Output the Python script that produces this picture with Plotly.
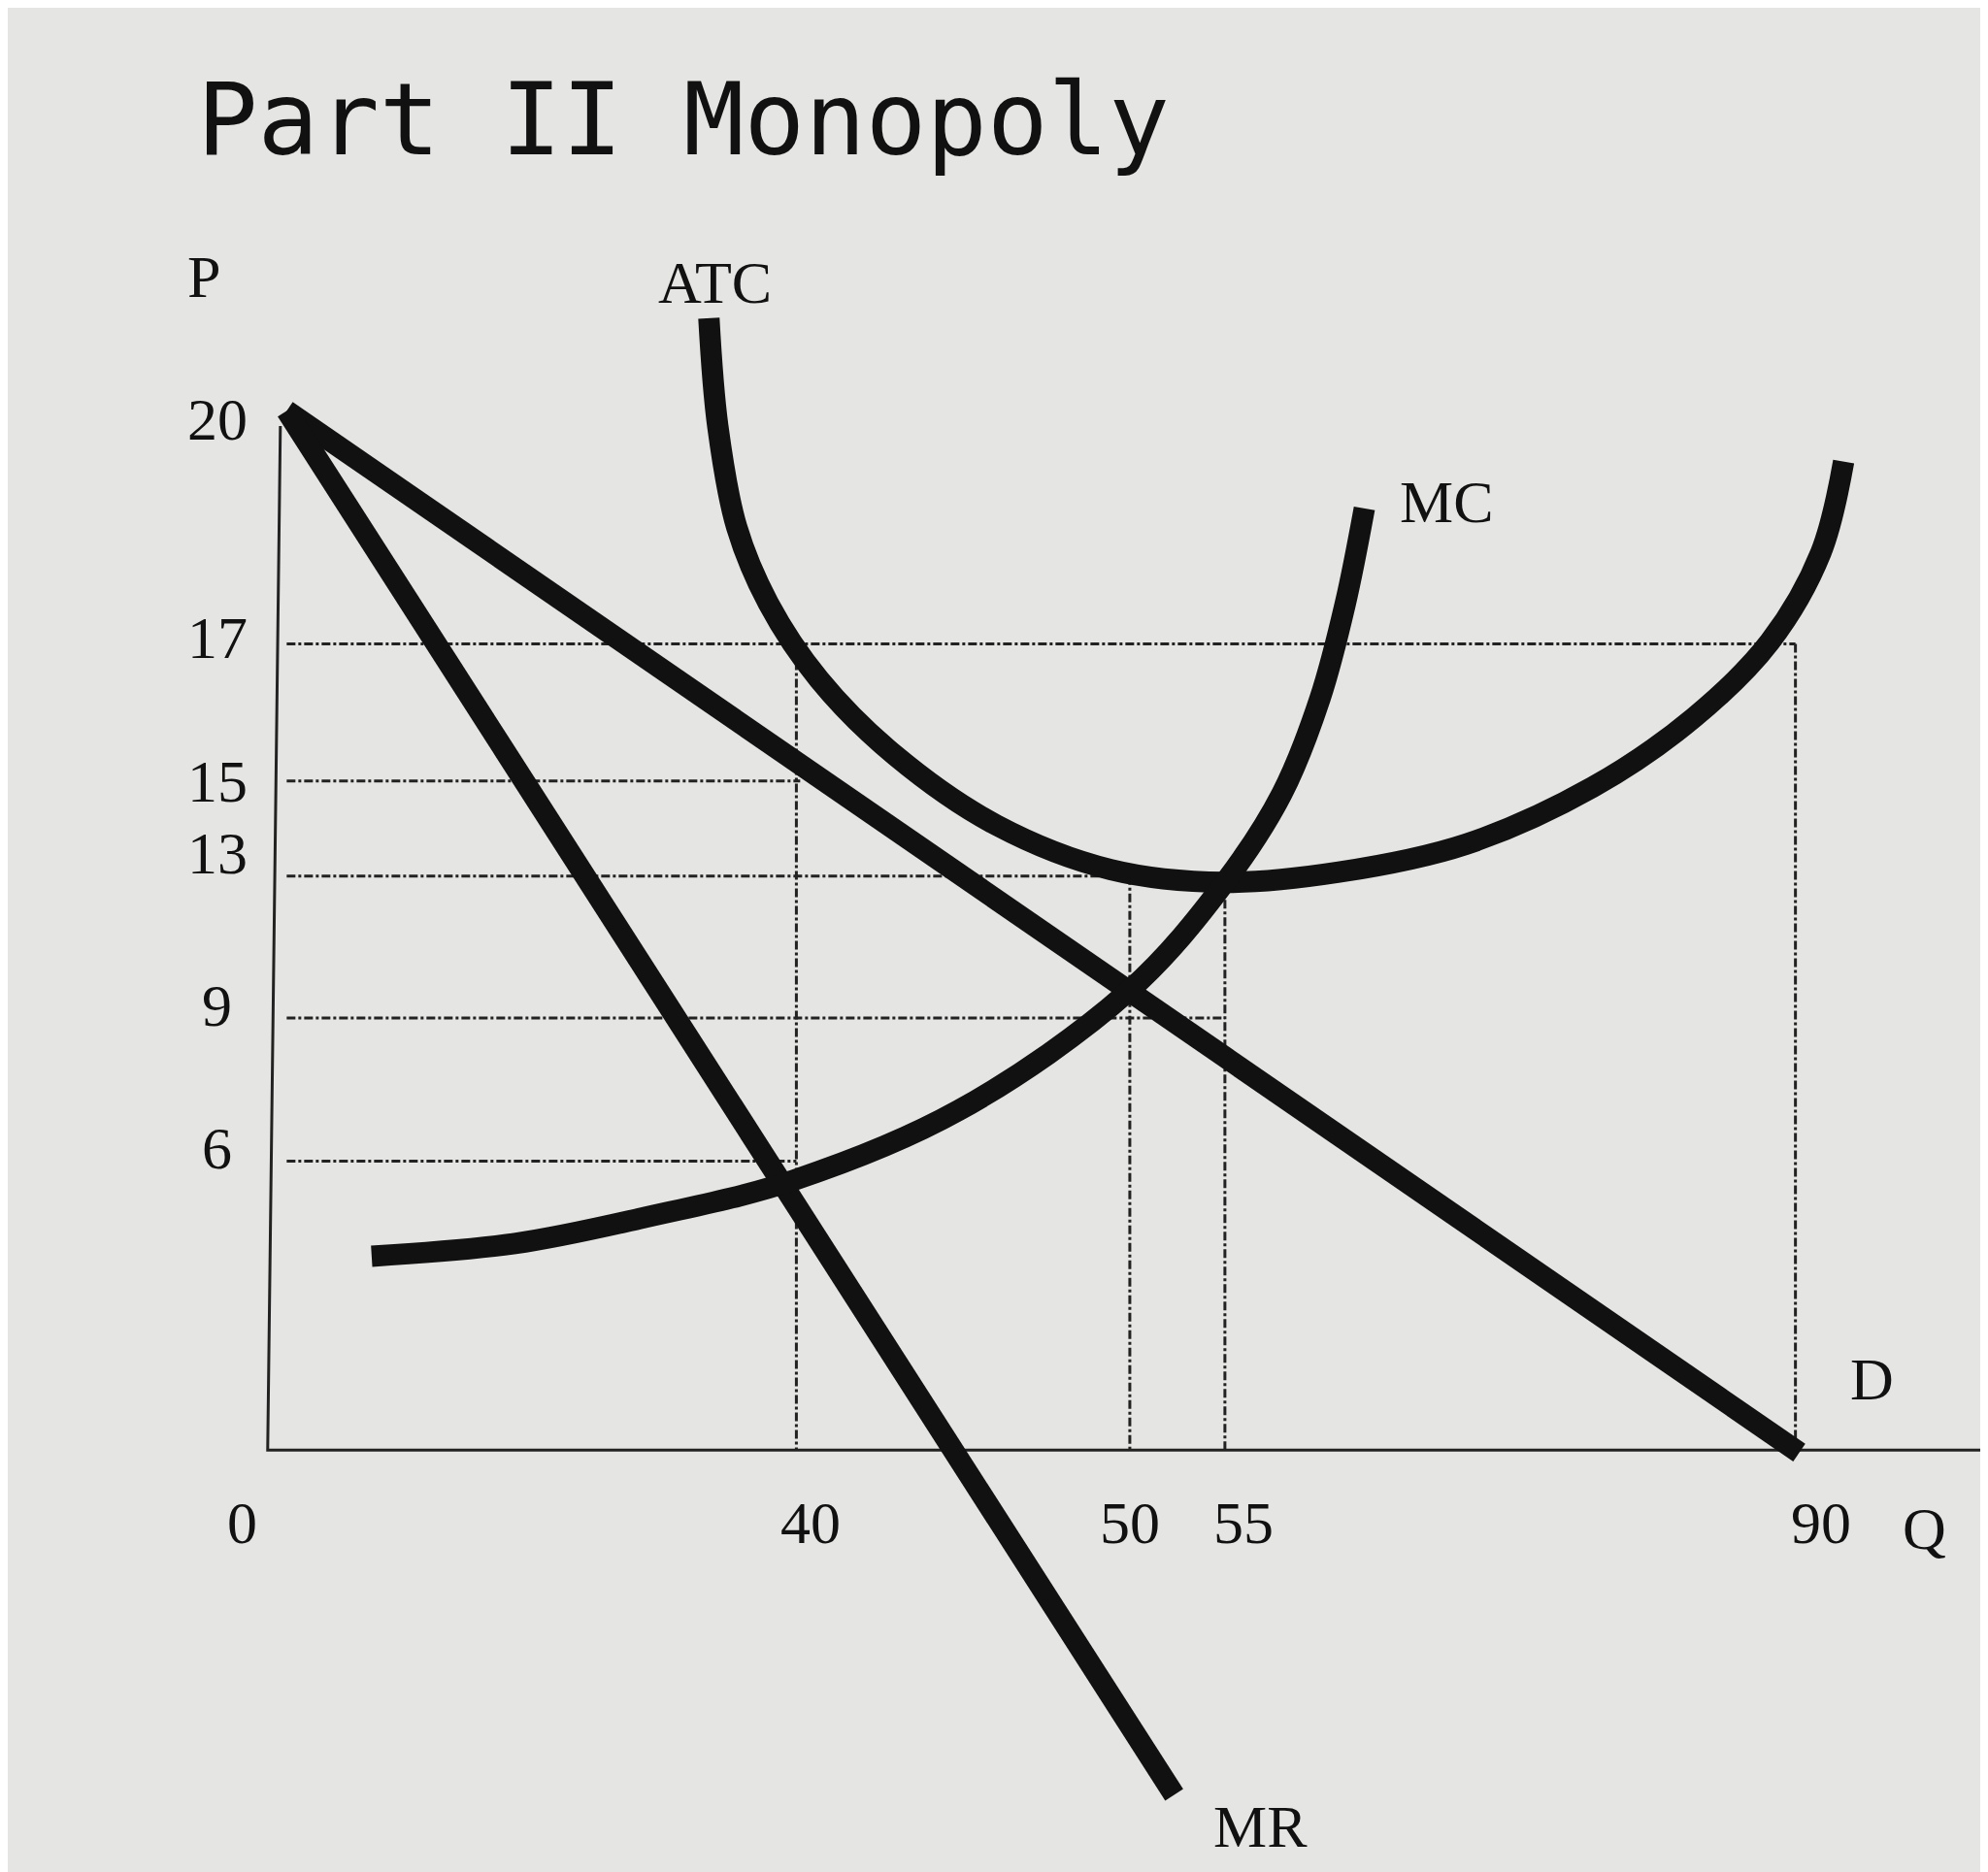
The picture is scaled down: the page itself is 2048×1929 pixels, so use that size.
import plotly.graph_objects as go

# Chart drawn in "sketch units" (diagram is not to scale); tick labels map values to positions
q_ticks = ["0", "40", "50", "55", "90"]
q_pos = [185, 633, 885, 975, 1430]
p_ticks = ["20", "17", "15", "13", "9", "6"]
p_pos = [325, 497, 610, 667, 787, 900]

d_x = [220, 1413]; d_y = [318, 1140]
mr_x = [220, 920]; mr_y = [318, 1410]
atc_x = [553, 560, 575, 600, 640, 700, 780, 870, 960, 1050, 1150, 1250, 1330, 1390, 1430, 1448]
atc_y = [245, 330, 410, 470, 530, 590, 645, 680, 690, 682, 660, 615, 560, 500, 430, 358]
mc_x = [287, 400, 500, 620, 750, 885, 960, 1005, 1035, 1055, 1070]
mc_y = [985, 975, 955, 925, 870, 775, 690, 620, 545, 470, 395]

# guide lines: (x0,y0,x1,y1)
guides = [(220, 502, 1410, 502), (220, 610, 625, 610), (220, 685, 885, 685),
          (220, 797, 960, 797), (220, 910, 622, 910),
          (622, 502, 622, 1138), (885, 685, 885, 1138), (960, 690, 960, 1138),
          (1410, 502, 1410, 1138)]

fig = go.Figure()
for g in guides:
    fig.add_trace(go.Scatter(x=[g[0], g[2]], y=[g[1], g[3]], mode="lines",
                             line=dict(color="#222", width=3, dash="dashdot"), hoverinfo="skip"))
fig.add_trace(go.Scatter(x=[215, 205, 1568], y=[330, 1138, 1138], mode="lines",
                         line=dict(color="#222", width=3)))
for xs, ys in [(d_x, d_y), (mr_x, mr_y)]:
    fig.add_trace(go.Scatter(x=xs, y=ys, mode="lines", line=dict(color="#111", width=22)))
for xs, ys in [(atc_x, atc_y), (mc_x, mc_y)]:
    fig.add_trace(go.Scatter(x=xs, y=ys, mode="lines", line=dict(color="#111", width=22, shape="spline")))

serif = "Liberation Serif"
ann = []
for t, p in zip(q_ticks, q_pos):
    ann.append(dict(x=p, y=1195, text=t))
for t, p in zip(p_ticks, p_pos):
    ann.append(dict(x=165, y=p, text=t))
for t, x, y in [("P", 155, 212), ("ATC", 558, 217), ("MC", 1135, 390), ("D", 1470, 1082),
                ("Q", 1512, 1200), ("MR", 988, 1435)]:
    ann.append(dict(x=x, y=y, text=t))
annotations = [dict(a, showarrow=False, font=dict(family=serif, size=62, color="#111"),
                    xanchor="center", yanchor="middle") for a in ann]
annotations.append(dict(x=148, y=88, text="Part II Monopoly", showarrow=False, xanchor="left",
                        yanchor="middle", font=dict(family="DejaVu Sans Mono", size=104, color="#111")))

fig.update_layout(width=2048, height=1929, margin=dict(l=0, r=0, t=0, b=0),
                  paper_bgcolor="#e5e5e3", plot_bgcolor="#e5e5e3", showlegend=False,
                  annotations=annotations,
                  xaxis=dict(range=[0, 1568], visible=False),
                  yaxis=dict(range=[1477, 0], visible=False))
fig.write_html("out.html")
